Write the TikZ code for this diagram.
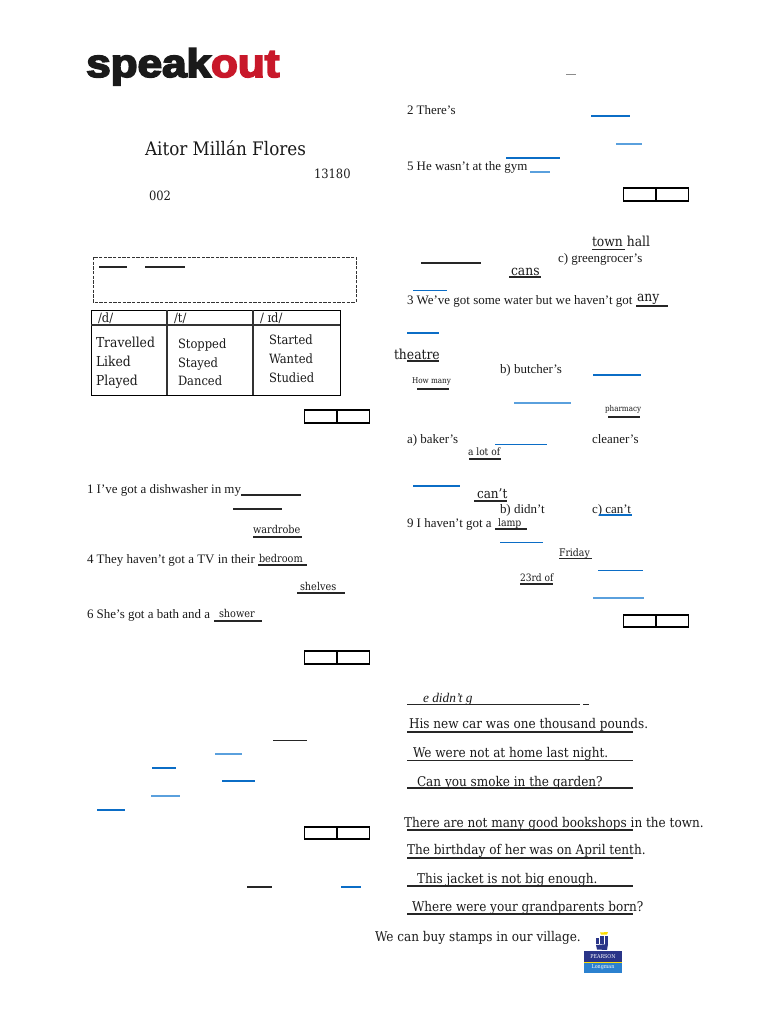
\documentclass[tikz,border=0pt]{standalone}
\usepackage{fontspec}
\setmainfont{Liberation Serif}
\newfontfamily\srffont[FakeStretch=0.9]{DejaVu Serif}
\newfontfamily\logofont[BoldFeatures={FakeBold=4.2}]{Liberation Sans}
\definecolor{bluea}{HTML}{0B6DC6}
\definecolor{blueb}{HTML}{5AA0DD}
\definecolor{redl}{HTML}{C8182A}
\definecolor{ink}{HTML}{1A1A1A}
\definecolor{navy}{HTML}{2A3588}
\tikzset{
 lab/.style={anchor=base west,inner sep=0pt,outer sep=0pt,text=ink},
 tms/.style={lab,font=\fontsize{9.72pt}{10pt}\selectfont},
 srf/.style={lab,font=\srffont\fontsize{10.05pt}{11pt}\selectfont},
 srfd/.style={lab,font=\srffont\fontsize{9.6pt}{11pt}\selectfont},
 srfw/.style={lab,font=\srffont\fontsize{10.3pt}{11pt}\selectfont},
 srfs/.style={lab,font=\srffont\fontsize{8.1pt}{9pt}\selectfont},
 srft/.style={lab,font=\srffont\fontsize{6pt}{8pt}\selectfont},
 rul/.style={black!85,line width=0.85pt},
 blu/.style={bluea,line width=0.85pt},
 bll/.style={blueb,line width=0.85pt},
 grid/.style={draw=black,line width=1.1pt},
}
\newcommand{\TT}[5]{\node[#4] (#1) at (#2,#3) {#5};}
\newcommand{\LL}[4]{\draw[#4] (#1,#3) -- (#2,#3);}
\newcommand{\MK}[4]{\draw[grid] (#1,#3) rectangle (#2,#4); \draw[black,line width=0.8pt] ({(#1+#2)/2},#3) -- ({(#1+#2)/2},#4);}
\begin{document}
\begin{tikzpicture}[x=0.75pt,y=-0.75pt]
\useasboundingbox (0,0) rectangle (768,1024);
% logo
\node[anchor=base west,inner sep=0pt,font=\logofont\bfseries\fontsize{33pt}{33pt}\selectfont] (logo) at (86,77) {\scalebox{1}[0.9]{\textcolor{ink}{speak}\textcolor{redl}{out}}};
% header
\TT{name}{145}{155}{lab,font=\srffont\fontsize{14pt}{15pt}\selectfont}{Aitor Millán Flores}
\TT{num}{314}{178}{srfd}{13180}
\TT{grp}{149}{200}{srfd}{002}
% dashed box
\draw[black!80,line width=0.7pt,dash pattern=on 2.5pt off 1pt] (93,257) rectangle (356,302);
\LL{99}{127}{267}{rul}
\LL{145}{185}{267}{rul}
% table
\draw[black,line width=0.6pt] (91.5,310) rectangle (340,395);
\draw[black!80,line width=1.2pt] (91,325) -- (340,325);
\draw[black!80,line width=1.1pt] (167,310) -- (167,395);
\draw[black!80,line width=0.8pt] (253,310) -- (253,395);
\TT{hd}{98}{322}{srfd}{/d/}
\TT{ht}{174}{322}{srfd}{/t/}
\TT{hi}{260}{322}{srfd}{/ \char"026A d/}
\TT{c1a}{96}{347}{srfw}{Travelled}
\TT{c1b}{96}{366}{srfw}{Liked}
\TT{c1c}{96}{385}{srfw}{Played}
\TT{c2a}{178}{348}{srfd}{Stopped}
\TT{c2b}{178}{367}{srfd}{Stayed}
\TT{c2c}{178}{385}{srfd}{Danced}
\TT{c3a}{269}{344}{srfd}{Started}
\TT{c3b}{269}{363}{srfd}{Wanted}
\TT{c3c}{269}{382}{srfd}{Studied}
\MK{304.5}{369.5}{410}{423}
% left exercise
\TT{q1}{87}{493}{tms}{1 I’ve got a dishwasher in my}
\LL{241}{301}{495}{rul}
\LL{233}{282}{509}{rul}
\TT{a3}{253}{533}{srfs}{wardrobe}
\LL{253}{302}{537}{rul}
\TT{q4}{87}{563}{tms}{4 They haven’t got a TV in their}
\TT{a4}{259}{562}{srfs}{bedroom}
\LL{258}{307}{565}{rul}
\TT{a5}{300}{590}{srfs}{shelves}
\LL{297}{345}{593}{rul}
\TT{q6}{87}{618}{tms}{6 She’s got a bath and a}
\TT{a6}{219}{617}{srfs}{shower}
\LL{214}{262}{621}{rul}
\MK{304.5}{369.5}{651}{664}
\LL{273}{307}{740.5}{rul}
\LL{215}{242}{754}{bll}
\LL{152}{176}{768}{blu}
\LL{222}{255}{781}{blu,line width=1.2pt}
\LL{151}{180}{796}{bll}
\LL{97}{125}{810}{blu}
\MK{304.5}{369.5}{827}{839}
\LL{247}{272}{887}{rul}
\LL{341}{361}{887}{blu}
% right column
\LL{566}{576}{74.5}{black!45}
\TT{r2}{407}{114}{tms}{2 There’s}
\LL{591}{630}{116}{blu,line width=1.2pt}
\LL{616}{642}{144}{bll}
\LL{506}{560}{158}{blu}
\TT{r5}{407}{170}{tms}{5 He wasn’t at the gym}
\LL{530}{550}{172}{bll}
\MK{623.5}{688.5}{188}{201}
\TT{town}{592}{246}{srfw}{town hall}
\LL{592}{625}{249.5}{rul}
\TT{gre}{558}{262}{tms}{c) greengrocer’s}
\LL{421}{481}{263}{rul}
\TT{cans}{511}{275}{srfw}{cans}
\LL{509}{541}{277}{rul}
\LL{413}{447}{290.5}{blu}
\TT{r3}{407}{304}{tms}{3 We’ve got some water but we haven’t got}
\TT{any}{637}{301}{srfw}{any}
\LL{636}{668}{306}{rul}
\LL{407}{439}{333}{blu}
\TT{the}{394}{359}{srfw}{theatre}
\LL{407}{439}{361}{rul}
\TT{but}{500}{373}{tms}{b) butcher’s}
\LL{593}{641}{375}{blu}
\TT{how}{412}{383}{srft}{How many}
\LL{417}{449}{389}{rul}
\LL{514}{571}{403}{bll}
\TT{pha}{605}{411}{srft}{pharmacy}
\LL{608}{640}{417}{rul}
\TT{bak}{407}{443}{tms}{a) baker’s}
\LL{495}{547}{444.5}{blu}
\TT{cle}{592}{443}{tms}{cleaner’s}
\TT{alo}{468}{455}{lab,font=\srffont\fontsize{7.6pt}{9pt}\selectfont}{a lot of}
\LL{469}{501}{459}{rul}
\LL{413}{460}{486}{blu}
\TT{can}{477}{498}{srf}{can’t}
\LL{474}{507}{501}{rul}
\TT{did}{500}{513}{tms}{b) didn’t}
\TT{cant}{592}{513}{tms}{c) can’t}
\LL{599}{632}{515}{blu}
\TT{r9}{407}{527}{tms}{9 I haven’t got a}
\TT{lam}{498}{526}{lab,font=\srffont\fontsize{7.8pt}{9pt}\selectfont}{lamp}
\LL{495}{527}{529}{rul}
\LL{500}{543}{542.5}{blu}
\TT{fri}{559}{556}{lab,font=\srffont\fontsize{7.8pt}{9pt}\selectfont}{Friday}
\LL{559}{592}{558.5}{rul}
\LL{598}{643}{570.5}{blu,line width=1.2pt}
\TT{rd}{520}{581}{lab,font=\srffont\fontsize{7.6pt}{9pt}\selectfont}{23rd of}
\LL{520}{553}{584}{rul}
\LL{593}{644}{598}{bll}
\MK{623.5}{688.5}{615}{627}
% sentences
\TT{s0}{423}{702}{lab,font=\itshape\fontsize{10pt}{11pt}\selectfont}{e didn’t g}
\LL{407}{580}{704.5}{rul}
\LL{583}{589}{704.5}{rul}
\TT{s1}{409}{728}{srf}{His new car was one thousand pounds.}
\LL{407}{633}{732}{rul}
\TT{s2}{413}{757}{srf}{We were not at home last night.}
\LL{407}{633}{760.5}{rul}
\TT{s3}{417}{786}{srf}{Can you smoke in the garden?}
\LL{407}{633}{788}{rul}
\TT{s4}{404}{827}{srf}{There are not many good bookshops in the town.}
\LL{407}{633}{830}{rul}
\TT{s5}{407}{854}{srf}{The birthday of her was on April tenth.}
\LL{407}{633}{858}{rul}
\TT{s6}{417}{883}{srf}{This jacket is not big enough.}
\LL{407}{633}{886}{rul}
\TT{s7}{412}{911}{srf}{Where were your grandparents born?}
\LL{407}{633}{914}{rul}
\TT{s8}{375}{941}{srf}{We can buy stamps in our village.}
% pearson logo
\fill[navy] (584,951) rectangle (622,962);
\fill[blueb!40!bluea] (584,962) rectangle (622,973);
\draw[yellow!80!orange,line width=0.4pt] (584,962) -- (622,962);
\node[inner sep=0pt,text=white,font=\srffont\fontsize{4pt}{4pt}\selectfont] (pe) at (603,956.5) {PEARSON};
\node[inner sep=0pt,text=white,font=\srffont\fontsize{4pt}{4pt}\selectfont] (lo) at (603,967.5) {Longman};
\fill[navy] (596,945) -- (608,944) -- (607,950) -- (597,949.5) -- cycle;
\fill[navy] (596,938) rectangle (599,944);
\fill[navy] (600,936) rectangle (603.5,944);
\fill[navy] (604.5,936) rectangle (608,944);
\fill[yellow!80!orange] (600,932.5) -- (608,932) -- (607,934.5) -- (601,934.5) -- cycle;
\end{tikzpicture}
\end{document}
